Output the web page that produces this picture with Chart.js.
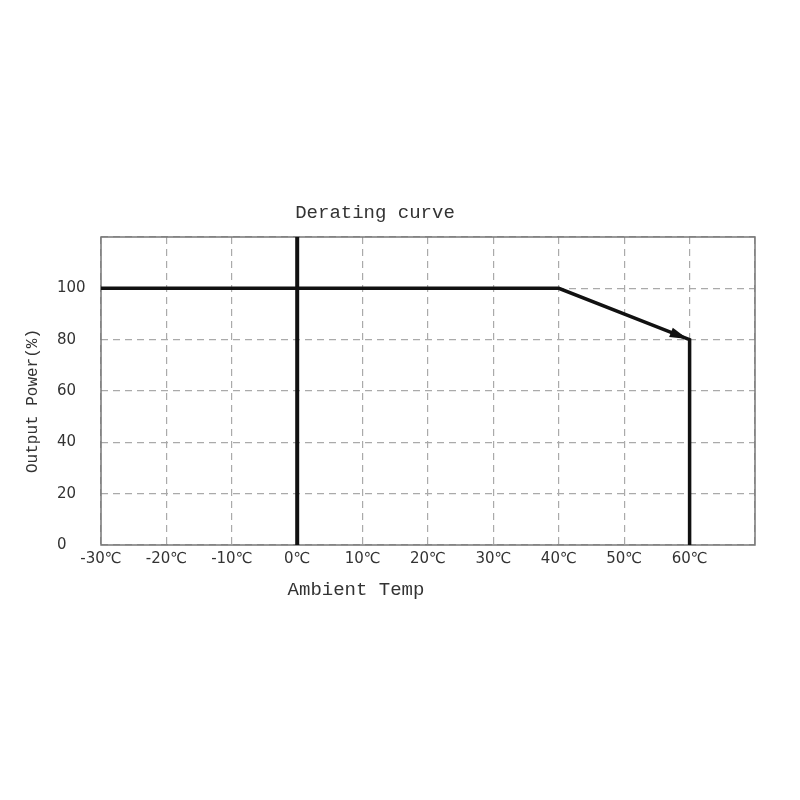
<!DOCTYPE html>
<html>
<head>
<meta charset="utf-8">
<script src="https://cdn.jsdelivr.net/npm/chart.js@4"></script>
<style>
  body { margin: 0; background: #fff; }
  #wrap { width: 800px; height: 800px; }
</style>
</head>
<body>
<div id="wrap"><canvas id="chart" width="800" height="800"></canvas></div>
<script>
// derating curve: ambient temp vs output power
const temps = [-30, 40, 60, 60];
const power = [100, 100, 80, 0];
const zeroX = [0, 0];
const zeroY = [0, 120];
const xTicks = [-30, -20, -10, 0, 10, 20, 30, 40, 50, 60, 70];
const xLabels = ['-30℃', '-20℃', '-10℃', '0℃', '10℃', '20℃', '30℃', '40℃', '50℃', '60℃', ''];
const yTicks = [0, 20, 40, 60, 80, 100, 120];
const yLabels = ['0', '20', '40', '60', '80', '100', ''];

const textColor = '#333';
const monoFont = '"Liberation Mono", "DejaVu Sans Mono", monospace';

const extras = {
	id: 'extras',
	beforeDatasetsDraw(chart) {
		const { ctx, chartArea: a } = chart;
		ctx.save();
		ctx.strokeStyle = '#777';
		ctx.lineWidth = 1.5;
		ctx.strokeRect(a.left, a.top, a.right - a.left, a.bottom - a.top);
		ctx.restore();
	},
	afterDatasetsDraw(chart) {
		const { ctx, chartArea: a } = chart;
		const pts = chart.getDatasetMeta(0).data;
		const p1 = pts[1], p2 = pts[2];
		const ang = Math.atan2(p2.y - p1.y, p2.x - p1.x);
		const len = 18, half = 5;
		ctx.save();
		ctx.fillStyle = '#111';
		ctx.translate(p2.x, p2.y);
		ctx.rotate(ang);
		ctx.beginPath();
		ctx.moveTo(-2, 0);
		ctx.lineTo(-len - 2, -half);
		ctx.lineTo(-len - 2, half);
		ctx.closePath();
		ctx.fill();
		ctx.restore();

		ctx.save();
		ctx.fillStyle = textColor;
		ctx.font = '19px ' + monoFont;
		ctx.textAlign = 'center';
		ctx.textBaseline = 'middle';
		ctx.fillText('Derating curve', a.left + 274, a.top - 24);
		ctx.fillText('Ambient Temp', a.left + 255, a.bottom + 45);
		ctx.translate(33, (a.top + a.bottom) / 2 + 10);
		ctx.rotate(-Math.PI / 2);
		ctx.font = '16px ' + monoFont;
		ctx.fillText('Output Power(%)', 0, 0);
		ctx.restore();
	}
};

new Chart(document.getElementById('chart'), {
	type: 'line',
	data: {
		datasets: [
			{
				data: temps.map((t, i) => ({ x: t, y: power[i] })),
				borderColor: '#111',
				borderWidth: 3.5,
				pointRadius: 0,
				tension: 0,
			},
			{
				data: zeroX.map((t, i) => ({ x: t, y: zeroY[i] })),
				borderColor: '#111',
				borderWidth: 4,
				pointRadius: 0,
			},
		],
	},
	options: {
		responsive: false,
		animation: false,
		layout: { padding: { left: 57, right: 45, top: 237, bottom: 0 } },
		plugins: { legend: { display: false }, tooltip: { enabled: false } },
		scales: {
			x: {
				type: 'linear',
				min: -30,
				max: 70,
				afterBuildTicks: s => { s.ticks = xTicks.map(v => ({ value: v })); },
				afterFit: s => { s.height = 255; },
				grid: { color: '#aaa', lineWidth: 1.2, drawTicks: false },
				border: { display: false, dash: [7, 5] },
				ticks: {
					padding: 5,
					maxRotation: 0,
					autoSkip: false,
					color: textColor,
					font: { family: '"DejaVu Sans"', size: 15 },
					callback: (v, i) => xLabels[i],
				},
			},
			y: {
				min: 0,
				max: 120,
				afterBuildTicks: s => { s.ticks = yTicks.map(v => ({ value: v })); },
				afterFit: s => { s.width = 44; },
				grid: { color: '#aaa', lineWidth: 1.2, drawTicks: false },
				border: { display: false, dash: [7, 5] },
				ticks: {
					crossAlign: 'far',
					color: textColor,
					font: { family: '"DejaVu Sans"', size: 15 },
					callback: (v, i) => yLabels[i],
				},
			},
		},
	},
	plugins: [extras],
});
</script>
</body>
</html>
